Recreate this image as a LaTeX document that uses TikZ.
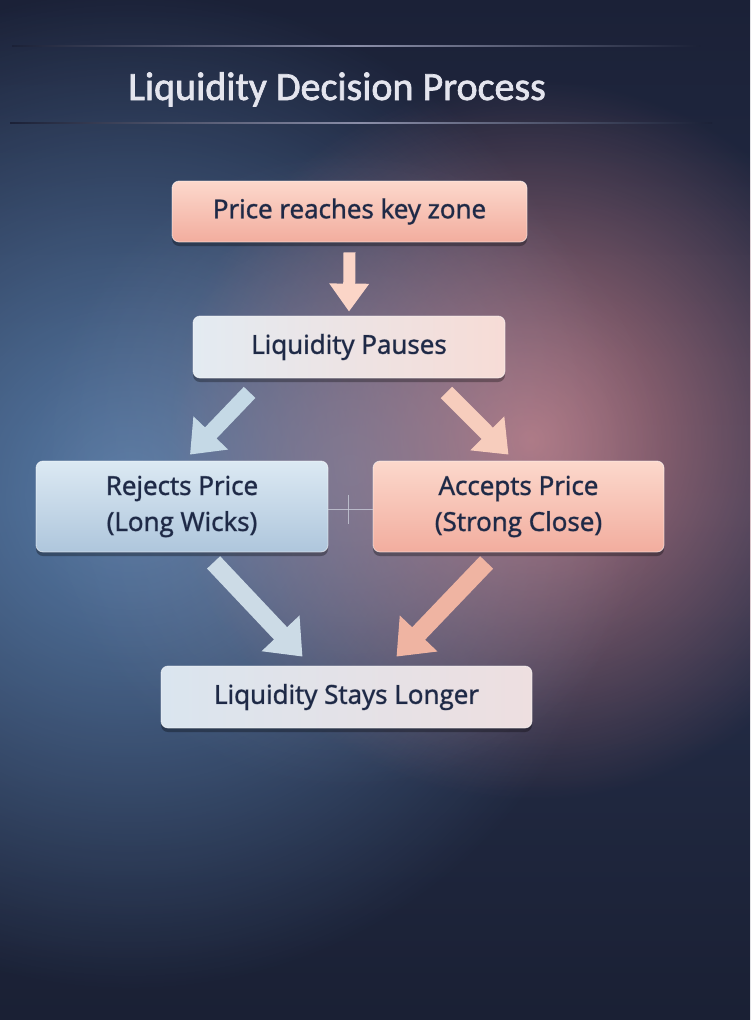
\documentclass[tikz,border=0pt]{standalone}
\usepackage{fontspec}
\setmainfont{Open Sans}
\newfontfamily\titlefont{Carlito}
\newcommand\heavier[2]{\special{pdf:literal 2 Tr #1 w}#2\special{pdf:literal 0 Tr}}
\usetikzlibrary{arrows.meta,shadows,fadings,calc}
\definecolor{bgtop}{HTML}{1B2137}
\definecolor{bgmid}{HTML}{26304C}
\definecolor{bgbot}{HTML}{1A2034}
\definecolor{glowblue}{HTML}{5A80AC}
\definecolor{glowpink}{HTML}{C67E86}
\definecolor{glowmid}{HTML}{8C8CA4}
\definecolor{txt}{HTML}{1E2946}
\definecolor{ttl}{HTML}{E4E5EE}
\definecolor{rule}{HTML}{8A8EA8}
\definecolor{pinkA}{HTML}{FCD8CC}
\definecolor{pinkB}{HTML}{F2AD9E}
\definecolor{blueA}{HTML}{DCE9F3}
\definecolor{blueB}{HTML}{AEC6DC}
\definecolor{pauseL}{HTML}{E3EBF2}
\definecolor{pauseR}{HTML}{F7DCD6}
\definecolor{stayL}{HTML}{DAE5EF}
\definecolor{stayR}{HTML}{EEDFE0}
\definecolor{arTop}{HTML}{FBD5C7}
\definecolor{arUL}{HTML}{C5D9E6}
\definecolor{arUR}{HTML}{F7CDBD}
\definecolor{arLL}{HTML}{CCDBE6}
\definecolor{arLR}{HTML}{EFB4A2}
\definecolor{tickc}{HTML}{C8CCD8}
\tikzfading[name=glowfade, inner color=transparent!0, outer color=transparent!100]
\tikzset{
  box/.style={rounded corners=7pt, draw=white, draw opacity=0.55, line width=0.8pt,
    text=txt, font=\fontsize{26}{36}\selectfont, align=center, inner sep=0pt,
    drop shadow={shadow xshift=0pt, shadow yshift=-4pt, opacity=0.3, fill=black}},
  bigarrow/.style={line width=#1, line cap=butt},
  bigarrow/.default=14pt,
}
\begin{document}
\begin{tikzpicture}[x=1pt,y=-1pt]
\useasboundingbox (0,0) rectangle (750,1020);
% background
\shade[top color=bgtop, bottom color=bgbot, middle color=bgmid] (0,0) rectangle (750,1020);
\fill[glowblue, path fading=glowfade, opacity=0.95] (130,490) circle (500);
\fill[glowpink, path fading=glowfade, opacity=0.9] (530,440) circle (360);
\fill[glowmid, path fading=glowfade, opacity=0.45] (350,470) circle (320);
% title rules
\shade[left color=bgtop, right color=bgtop, middle color=rule] (12,45.4) rectangle (700,46.6);
\shade[left color=bgtop, right color=bgtop, middle color=rule] (10,122.4) rectangle (712,123.6);
\node[text=ttl, font=\titlefont\fontsize{40}{44}\selectfont, anchor=base] (title) at (337,100) {\heavier{0.7}{Liquidity Decision Process}};
% boxes
\node[box, top color=pinkA, bottom color=pinkB, minimum width=355pt, minimum height=61pt] (top) at (349.5,211.5) {\heavier{0.8}{Price reaches key zone}};
\node[box, left color=pauseL, right color=pauseR, minimum width=312pt, minimum height=62pt] (pause) at (349,347) {\heavier{0.8}{Liquidity Pauses}};
\node[box, top color=blueA, bottom color=blueB, minimum width=292pt, minimum height=91pt] (rej) at (182,506.5) {\heavier{0.8}{Rejects Price}\\\heavier{0.8}{(Long Wicks)}};
\node[box, top color=pinkA, bottom color=pinkB, minimum width=291pt, minimum height=91pt] (acc) at (518.5,506.5) {\heavier{0.8}{Accepts Price}\\\heavier{0.8}{(Strong Close)}};
\node[box, left color=stayL, right color=stayR, minimum width=371pt, minimum height=62pt] (stay) at (346.5,697) {\heavier{0.8}{Liquidity Stays Longer}};
% block arrows
\draw[bigarrow=12pt, arTop, -{Triangle[width=38pt,length=28pt]}]
  ($(top.south)+(0,10)$) -- ($(pause.north)+(0,-4)$);
\draw[bigarrow=16pt, arUL, -{Triangle[width=46pt,length=30pt]}]
  ($(pause.south west)+(57,14)$) -- ($(rej.north)+(8,-6)$);
\draw[bigarrow=16pt, arUR, -{Triangle[width=46pt,length=30pt]}]
  ($(pause.south east)+(-59,14)$) -- ($(acc.north)+(-10,-6)$);
\draw[bigarrow=18pt, arLL, -{Triangle[width=50pt,length=32pt]}]
  ($(rej.south west)+(178,10)$) -- ($(stay.north)+(-44,-9)$);
\draw[bigarrow=18pt, arLR, -{Triangle[width=50pt,length=32pt]}]
  ($(acc.south west)+(114,10)$) -- ($(stay.north)+(50,-9)$);
% small connector between decision boxes
\draw[tickc, line width=0.9pt, opacity=0.8] ($(rej.east)+(0,3)$) -- coordinate[pos=0.5] (mid) ($(acc.west)+(0,3)$);
\draw[tickc, line width=0.9pt, opacity=0.8] ($(mid)+(-2,-15)$) -- ($(mid)+(-2,14)$);
\end{tikzpicture}
\end{document}
